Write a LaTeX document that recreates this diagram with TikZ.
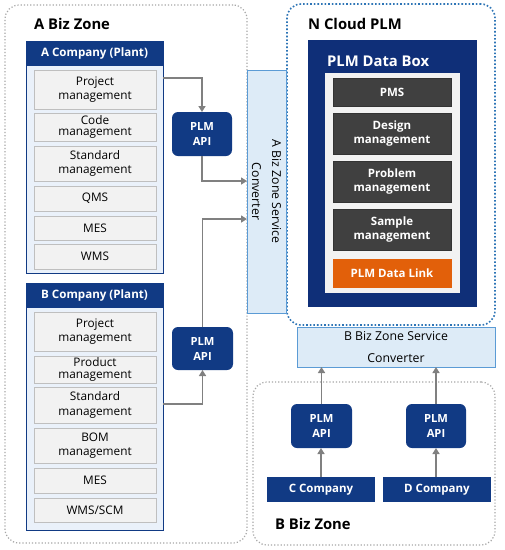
\documentclass[tikz,border=0pt]{standalone}
\usepackage{fontspec}
\setmainfont{Open Sans}
\usetikzlibrary{arrows.meta}
\definecolor{navy}{HTML}{113A84}
\definecolor{darknavy}{HTML}{0F2F78}
\definecolor{panelfill}{HTML}{EAF1FA}
\definecolor{itemfill}{HTML}{F2F2F2}
\definecolor{itemdraw}{HTML}{BFBFBF}
\definecolor{convfill}{HTML}{DDEBF7}
\definecolor{convdraw}{HTML}{5B9BD5}
\definecolor{cloudblue}{HTML}{2E75B6}
\definecolor{zonegray}{HTML}{A6A6A6}
\definecolor{arrgray}{HTML}{808080}
\definecolor{boxgray}{HTML}{404040}
\definecolor{linkorange}{HTML}{E2600A}
\definecolor{innergray}{HTML}{F2F2F2}
\tikzset{
  box/.style={anchor=north west, inner sep=0pt, outer sep=0pt, align=center},
  zone/.style={box, draw=zonegray, line width=1.2pt, dotted, rounded corners=14pt},
  cloudzone/.style={box, draw=cloudblue, line width=1.6pt, dotted, rounded corners=14pt},
  ztitle/.style={anchor=west, inner sep=0pt, font=\bfseries\fontsize{14.8}{16}\selectfont},
  panel/.style={box, fill=panelfill, draw=navy, line width=1pt},
  header/.style={box, fill=navy, draw=navy, line width=1pt, text=white, font=\bfseries\fontsize{11.6}{13}\selectfont},
  item/.style={box, fill=itemfill, draw=itemdraw, line width=0.8pt, minimum width=122pt, font=\fontsize{11.8}{14.5}\selectfont},
  tightitem/.style={item, font=\fontsize{11.8}{11.5}\selectfont},
  api/.style={box, fill=navy, rounded corners=6pt, text=white, font=\bfseries\fontsize{11.2}{15}\selectfont},
  conv/.style={inner sep=0pt, outer sep=0pt, align=center, fill=convfill, draw=convdraw, line width=1pt},
  darkitem/.style={box, fill=boxgray, draw=boxgray!80!black, line width=0.6pt, minimum width=118pt, text=white, font=\bfseries\fontsize{11.5}{14.5}\selectfont},
  comp/.style={box, fill=navy, text=white, minimum width=108pt, minimum height=25pt, font=\bfseries\fontsize{11.5}{13}\selectfont},
  arr/.style={draw=arrgray, line width=1.8pt, -{Triangle[width=7pt,length=6pt]}}
}
\begin{document}
\begin{tikzpicture}[x=1pt,y=-1pt]
\useasboundingbox[fill=white] (0,0) rectangle (505,550);
% zones
\node[zone, minimum width=242pt, minimum height=538pt] (azone) at (5,5) {};
\node[ztitle] (atitle) at (34,24) {A Biz Zone};
\node[cloudzone, minimum width=208pt, minimum height=321pt] (cloud) at (287,4) {};
\node[ztitle] (ctitle) at (308,24) {N Cloud PLM};
\node[zone, minimum width=242pt, minimum height=163pt] (bzone) at (253,382) {};
\node[ztitle] (btitle) at (275,524) {B Biz Zone};
% A company
\node[panel, minimum width=137pt, minimum height=232pt] (acomp) at (26,41) {};
\node[header, minimum width=137pt, minimum height=24pt] (ahead) at (26,41) {A Company (Plant)};
\node[item, minimum height=39pt] (a1) at (34,70) {Project\\management};
\node[tightitem, minimum height=28pt] (a2) at (34,113) {Code\\management};
\node[item, minimum height=35pt] (a3) at (34,146) {Standard\\management};
\node[item, minimum height=25pt] (a4) at (34,186) {QMS};
\node[item, minimum height=24pt] (a5) at (34,216) {MES};
\node[item, minimum height=25pt] (a6) at (34,244) {WMS};
% B company
\node[panel, minimum width=137pt, minimum height=247pt] (bcomp) at (26,283) {};
\node[header, minimum width=137pt, minimum height=24pt] (bhead) at (26,283) {B Company (Plant)};
\node[item, minimum height=39pt] (b1) at (34,312) {Project\\management};
\node[tightitem, minimum height=27pt] (b2) at (34,356) {Product\\management};
\node[item, minimum height=36pt] (b3) at (34,387) {Standard\\management};
\node[item, minimum height=35pt] (b4) at (34,428) {BOM\\management};
\node[item, minimum height=25pt] (b5) at (34,468) {MES};
\node[item, minimum height=24pt] (b6) at (34,498) {WMS/SCM};
% APIs
\node[api, minimum width=60pt, minimum height=44pt] (apiA) at (172,112) {PLM\\API};
\node[api, minimum width=61pt, minimum height=43pt] (apiB) at (172,327) {PLM\\API};
\node[api, minimum width=61pt, minimum height=44pt] (apiC) at (291,404) {PLM\\API};
\node[api, minimum width=60pt, minimum height=44pt] (apiD) at (406,404) {PLM\\API};
% converters
\node[conv, rotate=-90, minimum width=243pt, minimum height=39pt, font=\fontsize{12.3}{20}\selectfont] (convA) at (266.5,191.5) {A Biz Zone Service\\Converter};
\node[conv, anchor=north west, minimum width=198pt, minimum height=40pt, font=\fontsize{12.3}{22}\selectfont] (convB) at (297,327) {B Biz Zone Service\\Converter};
% PLM data box
\node[box, fill=darknavy, minimum width=169pt, minimum height=267pt] (databox) at (308,40) {};
\node[ztitle, text=white] (dbtitle) at (327,61) {PLM Data Box};
\node[box, fill=innergray, minimum width=135pt, minimum height=220pt] (inner) at (325,73) {};
\node[darkitem, minimum height=28pt] (d1) at (333,78) {PMS};
\node[darkitem, minimum height=41pt] (d2) at (333,113) {Design\\management};
\node[darkitem, minimum height=41pt] (d3) at (333,161) {Problem\\management};
\node[darkitem, minimum height=41pt] (d4) at (333,209) {Sample\\management};
\node[darkitem, fill=linkorange, draw=linkorange, minimum height=28pt] (d5) at (333,259) {PLM Data Link};
% companies
\node[comp] (ccomp) at (267,477) {C Company};
\node[comp] (dcomp) at (383,477) {D Company};
% connectors
\coordinate (aout) at (163,78);
\coordinate (bout) at (163,404);
\coordinate (ain1) at (247,181);
\coordinate (ain2) at (247,219);
\draw[arr] (aout) -| (apiA.north);
\draw[arr] (apiA.south) |- (ain1);
\draw[arr] (bout) -| (apiB.south);
\draw[arr] (apiB.north) |- (ain2);
\draw[arr] (ccomp.north) -- (ccomp.north |- apiC.south);
\draw[arr] (apiC.north) -- (apiC.north |- convB.south);
\draw[arr] (dcomp.north -| apiD.south) -- (apiD.south);
\draw[arr] (apiD.north) -- (apiD.north |- convB.south);
\end{tikzpicture}
\end{document}
